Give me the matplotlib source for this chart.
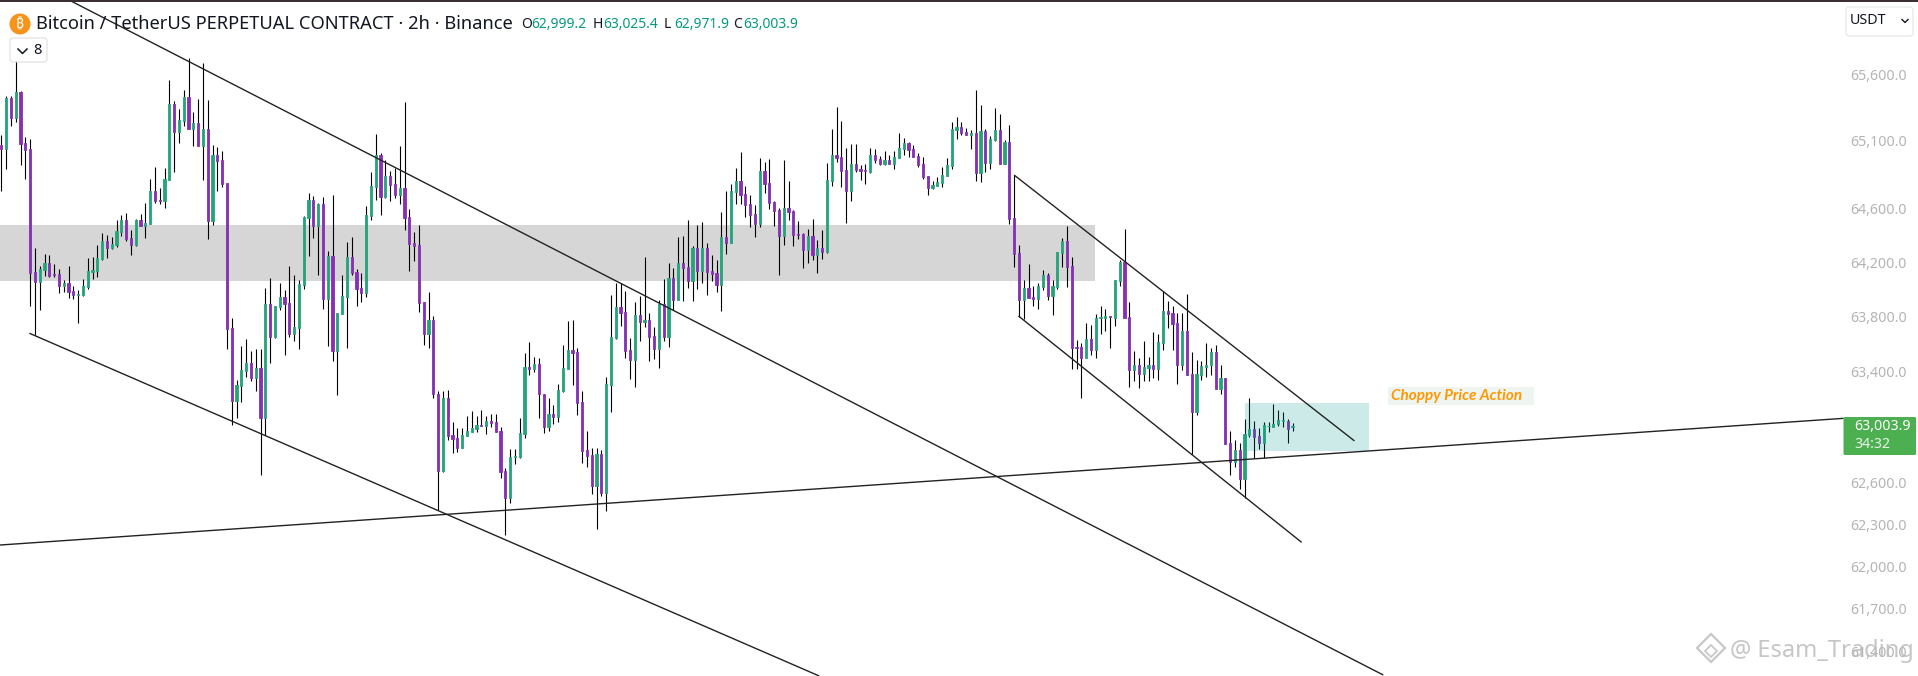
import matplotlib
matplotlib.use("Agg")
import matplotlib.pyplot as plt
from matplotlib.patches import Rectangle, FancyBboxPatch, Circle, Polygon
from matplotlib.ticker import NullLocator
from matplotlib.transforms import Affine2D

W, H = 1918, 676

opens = [
65070,65040,65423,65271,65465,65085,65040,64126,64053,64140,
64196,64111,64111,64024,64046,63988,63959,63959,64017,64126,
64133,64225,64356,64305,64327,64421,64513,64378,64327,64513,
64465,64480,64725,64659,64652,64809,65375,65167,65249,65428,
65189,65234,65063,65189,64506,64993,64956,64784,63718,63186,
63296,63402,63466,63353,63424,63067,63894,63650,63869,63945,
63901,63672,63717,64032,64528,64659,64465,64630,63930,64247,
63550,63819,63945,64239,64126,64010,63974,64542,64755,64993,
64681,64839,64777,64696,64748,64535,64341,64326,63909,63672,
63776,63238,62681,63207,62942,62921,62846,62935,62963,62984,
63012,63005,63041,63034,62970,62681,62488,62783,62783,62949,
63431,63417,63459,63238,62998,63095,63074,63259,63417,63557,
63543,63179,62832,62797,62578,62804,62523,63303,63643,63869,
63833,63557,63486,63812,63762,63776,63657,63564,63894,63650,
64082,63923,64196,64162,64061,64305,64133,64305,64133,64118,
64032,64385,64341,64718,64802,64703,64630,64557,64480,64877,
64784,64644,64586,64392,64601,64579,64406,64406,64290,64392,
64254,64305,64276,64802,64993,64979,64884,64725,64927,64890,
64883,64868,64993,64964,64927,64956,64927,64971,65040,65085,
65040,64986,64927,64839,64748,64762,64784,64839,64912,65182,
65204,65167,65145,65159,64861,65174,64934,65107,65182,64927,
65092,64528,64268,63923,64010,63945,63930,64017,64104,63952,
64017,64268,64356,64169,63578,63578,63500,63636,63557,63790,
63790,63804,63790,64061,64203,63797,63409,63445,63381,63424,
63445,63416,63607,63840,63826,63754,63445,63697,63381,63109,
63374,63431,63445,63543,63275,63353,62881,62750,62832,62625,
62942,62984,62935,62881,63003,62998,63020,63041,63041,62999.2]

highs = [
65145,65435,65435,65698,65473,65127,65115,64302,64169,64261,
64254,64184,64147,64068,64176,64024,63995,64075,64232,64239,
64327,64414,64400,64385,64513,64550,64564,64436,64520,64557,
64637,64817,64905,64747,64897,65555,65398,65338,65480,65721,
65316,65412,65683,65405,65070,65055,65026,64784,63788,63338,
63586,63636,63550,63564,63564,64010,64083,63876,64046,63995,
64169,64104,64068,64542,64711,64688,64637,64681,64283,64696,
63826,64104,64348,64385,64147,64118,64615,64867,65152,65011,
64956,64876,64898,65063,65390,64594,64421,64473,63909,63981,
63805,63259,63259,63266,63034,62991,62991,63081,63116,63081,
63123,63081,63095,63095,62998,62702,62839,62839,63067,63536,
63614,63507,63500,63238,63207,63158,63312,63593,63769,63776,
63571,63257,62970,62846,62846,62832,63359,63959,64046,64046,
63988,63643,63909,63952,64239,63826,63726,63923,64075,64196,
64155,64385,64392,64513,64319,64472,64498,64341,64254,64218,
64571,64725,64777,64897,65018,64762,64696,64623,64971,64942,
64964,64652,64601,64957,64802,64586,64506,64414,64443,64520,
64363,64436,64934,65187,65351,65249,65048,65077,65078,64920,
64927,65048,65040,64986,65026,64993,65026,65159,65122,65092,
65070,65011,64979,64839,64802,64831,64905,64971,65241,65278,
65241,65197,65182,65480,65368,65189,65137,65345,65301,65107,
65219,64848,64326,64068,64184,64024,64046,64140,64118,64068,
64276,64378,64465,64239,63629,63607,63754,63740,63819,63876,
63855,63804,64068,64218,64442,63909,63550,63500,63621,63507,
63690,63672,63988,63916,63876,63826,63826,63970,63543,63486,
63479,63607,63571,63593,63445,63353,62970,62902,62881,63055,
63207,63041,62991,63034,63034,63165,63123,63109,63055,63025.4]

lows = [
64728,64890,65212,65241,64920,64817,63876,63664,63847,64097,
64090,64092,63974,63981,63938,63930,63754,63952,64002,64075,
64090,64218,64232,64297,64312,64392,64356,64254,64319,64465,
64378,64480,64637,64630,64601,64809,64868,65085,65212,65189,
65063,65063,64809,64370,64473,64725,64755,63564,63013,63067,
63179,63360,63331,63257,62653,62942,63466,63643,63847,63522,
63650,63621,63564,64003,64247,64378,64104,63855,63586,63479,
63229,63819,63572,64104,63876,63909,63945,64513,64659,64550,
64674,64652,64674,64630,64436,64133,64210,63833,63593,63572,
63207,62401,62674,62902,62811,62818,62846,62935,62963,62963,
63005,62949,62998,62963,62632,62223,62453,62730,62776,62921,
63374,63396,63067,62956,62970,63019,63034,63252,63417,63303,
63088,62737,62709,62516,62265,62502,62394,63109,63636,63733,
63500,63345,63287,63622,63726,63479,63493,63424,63621,63579,
63847,63923,63916,64010,63916,64003,64046,63959,64061,63981,
63840,64261,64341,64630,64630,64535,64458,64385,64458,64711,
64593,64465,64104,64326,64513,64319,64370,64155,64196,64218,
64118,64225,64268,64762,64942,64755,64487,64652,64868,64809,
64777,64861,64934,64920,64920,64927,64890,64971,64993,64979,
64979,64905,64817,64696,64740,64762,64755,64839,64890,65115,
65145,65145,65040,64802,64792,64868,64890,65100,64927,64927,
64480,64162,63797,63783,63937,63876,63855,63995,63923,63812,
64003,64162,64017,63416,63423,63207,63500,63522,63500,63672,
63697,63571,63733,64024,63790,63289,63332,63282,63332,63332,
63353,63339,63557,63719,63557,63310,63409,63374,62804,63088,
63339,63360,63374,63275,63235,62874,62653,62711,62551,62488,
62928,62776,62839,62776,62963,62998,63006,62998,62881,62971.9]

closes = [
65040,65423,65271,65468,65078,65033,64119,64053,64147,64196,
64097,64104,64024,64046,63981,63959,63967,64024,64133,64140,
64232,64356,64305,64334,64429,64513,64370,64327,64513,64465,
64487,64725,64652,64652,64817,65375,65167,65256,65428,65189,
65234,65063,65189,64506,64993,64949,64777,63711,63186,63303,
63409,63466,63353,63424,63067,63894,63650,63876,63945,63894,
63672,63724,64039,64535,64659,64465,64630,63930,64247,63550,
63826,63952,64239,64118,64003,63974,64550,64762,64993,64681,
64839,64770,64696,64748,64528,64334,64319,63901,63672,63776,
63235,62681,63207,62935,62914,62846,62942,62970,62991,63012,
63005,63041,63027,62963,62674,62488,62783,62790,62956,63431,
63417,63459,63235,62998,63095,63074,63266,63424,63557,63536,
63172,62825,62790,62578,62804,62523,63310,63650,63869,63826,
63550,63486,63812,63761,63776,63650,63564,63894,63650,64082,
63923,64196,64155,64061,64305,64133,64305,64126,64111,64032,
64385,64341,64725,64802,64696,64623,64550,64480,64877,64777,
64637,64579,64392,64601,64571,64399,64399,64290,64392,64254,
64305,64276,64809,64993,64971,64877,64725,64927,64883,64875,
64875,64993,64956,64927,64956,64927,64979,65048,65085,65033,
64979,64920,64831,64748,64770,64792,64846,64920,65189,65204,
65159,65145,65159,64861,65174,64934,65115,65182,64927,65092,
64520,64261,63923,64010,63937,63930,64024,64104,63952,64024,
64276,64356,64162,63571,63571,63500,63636,63557,63790,63797,
63804,63797,64068,64203,63790,63409,63445,63381,63431,63445,
63416,63614,63840,63819,63747,63445,63697,63374,63109,63381,
63438,63452,63543,63275,63353,62874,62750,62832,62625,62949,
62984,62928,62881,63012,63010,63024,63048,63048,62984,63003.9]

tick_values = [65600, 65100, 64600, 64200, 63800, 63400, 62600, 62300, 62000, 61700, 61400]
tick_labels = ["65,600.0", "65,100.0", "64,600.0", "64,200.0", "63,800.0", "63,400.0",
               "62,600.0", "62,300.0", "62,000.0", "61,700.0", "61,400.0"]

# trend lines: (bar index, price) end points
line_a = ([14.1, 287.9], [66159, 61234])
line_b = ([5.85, 170.4], [63680, 61227])
line_c = ([-0.27, 383.8], [62153, 63062])
line_d = ([211.0, 281.9], [64845, 62899])
line_e = ([211.9, 270.9], [63806, 62172])
gray_zone = (-1, 227.8, 64064, 64475)
teal_zone = (259.1, 284.9, 62828, 63173)

title = "Bitcoin / TetherUS PERPETUAL CONTRACT · 2h · Binance"
ohlc = [("O", "62,999.2"), ("H", "63,025.4"), ("L", "62,971.9"), ("C", "63,003.9")]

GREEN = "#26a37c"
PURPLE = "#8631b4"
FONT = "Noto Sans"

fig = plt.figure(figsize=(W / 100, H / 100), dpi=100, facecolor="white")
ax = fig.add_axes([0, 0, 1, 1])
ax.set_facecolor("white")
ax.set_yscale("log")
ax.set_xlim(-0.2708, 399.3)
ax.set_ylim(61227, 66159)
for s in ax.spines.values():
    s.set_visible(False)

x = list(range(len(opens)))
colors = [GREEN if c >= o else PURPLE for o, c in zip(opens, closes)]
bottoms = [min(o, c) for o, c in zip(opens, closes)]
heights = [abs(o - c) for o, c in zip(opens, closes)]

ax.add_patch(Rectangle((gray_zone[0], gray_zone[2]), gray_zone[1] - gray_zone[0],
                       gray_zone[3] - gray_zone[2], fc="#d6d6d6", ec="none", zorder=1))
ax.vlines(x, lows, highs, colors="#000000", linewidth=0.8, zorder=2)
ax.bar(x, heights, bottom=bottoms, width=0.48, color=colors, edgecolor=colors,
       linewidth=0.6, zorder=3)
ax.add_patch(Rectangle((teal_zone[0], teal_zone[2]), teal_zone[1] - teal_zone[0],
                       teal_zone[3] - teal_zone[2], fc="#009688", alpha=0.2, ec="none", zorder=4))
for ln in (line_a, line_b, line_c, line_d, line_e):
    ax.plot(ln[0], ln[1], color="#222222", lw=1.0, zorder=5, solid_capstyle="butt")

ax.set_xticks([])
ax.yaxis.tick_right()
ax.set_yticks(tick_values)
ax.set_yticklabels(tick_labels, fontfamily=FONT, fontsize=10.2, color="#b4b4b4")
ax.yaxis.set_minor_locator(NullLocator())
ax.tick_params(axis="y", length=0, pad=-7.9)
for l in ax.get_yticklabels():
    l.set_ha("right")

tr_px = Affine2D().scale(1, -1).translate(0, H)


def ftext(px, py, s, **kw):
    kw.setdefault("family", FONT)
    kw.setdefault("va", "center")
    return fig.text(px / W, 1 - py / H, s, **kw)


def frect(x0, y0, x1, y1, **kw):
    p = Rectangle((x0, y0), x1 - x0, y1 - y0, transform=tr_px, **kw)
    fig.add_artist(p)
    return p


def fround(x0, y0, x1, y1, r=3, **kw):
    p = FancyBboxPatch((x0, y0), x1 - x0, y1 - y0, boxstyle=f"round,pad=0,rounding_size={r}",
                       transform=tr_px, **kw)
    fig.add_artist(p)
    return p


def fpoly(pts, **kw):
    p = Polygon(pts, transform=tr_px, closed=True, **kw)
    fig.add_artist(p)
    return p


# top border
frect(0, 0, W, 1.5, fc="#3a2f35", ec="none")

# header
fig.add_artist(Circle((20, 24), 10.5, transform=tr_px, fc="#f7931a", ec="none"))
ftext(20, 24, "₿", family=["Noto Sans", "Roboto", "Inter", "Open Sans", "Lato", "Liberation Sans", "DejaVu Sans"],
      color="white", fontsize=10, fontweight="bold", ha="center")
ftext(36, 24, title, color="#131722", fontsize=13.2)

ohlc_x = [521, 593, 664, 733]
for (lab, val), ox in zip(ohlc, ohlc_x):
    ftext(ox, 24, lab, color="#131722", fontsize=10.0)
    ftext(ox + 10, 24, val, color="#089981", fontsize=10.0)

# legend toggle
fround(10, 38, 47, 62, fc="none", ec="#e3e3e3", lw=0.9)
fig.add_artist(plt.Line2D([18, 22.5, 27], [49, 53.5, 49], transform=tr_px, color="#131722", lw=1.1))
ftext(37.5, 50.5, "8", color="#131722", fontsize=10.5, ha="center")

# currency button
fround(1846, 7, 1913, 36, fc="white", ec="#e8e8e8", lw=0.9)
ftext(1850, 21, "USDT", color="#131722", fontsize=10.3)
fig.add_artist(plt.Line2D([1902, 1905, 1908], [19.5, 22.5, 19.5], transform=tr_px, color="#131722", lw=1.0))

# price label
fround(1843.5, 417, 1916, 455, r=1.5, fc="#4caf50", ec="none")
ftext(1854, 427, "63,003.9", color="white", fontsize=10.2)
ftext(1854, 444, "34:32", color="#e8f5e9", fontsize=10.2)

# annotation
frect(1388, 387, 1534, 405, fc="#eef5f1", ec="none")
ftext(1391, 396, "Choppy Price Action", family="Lato", color="#ff9800", fontsize=11, fontweight="bold",
      fontstyle="italic")

# watermark
fpoly([(1711, 634), (1725, 648), (1711, 662), (1697, 648)], fc="none", ec="#c8c8c8", lw=1.6)
fpoly([(1711, 645), (1717, 651), (1711, 657), (1705, 651)], fc="none", ec="#c8c8c8", lw=1.3)
ftext(1730, 651, "@ Esam_Trading", color="#bcbcbc", fontsize=17, alpha=0.85)

fig.savefig("out.png", dpi=100, facecolor="white")
